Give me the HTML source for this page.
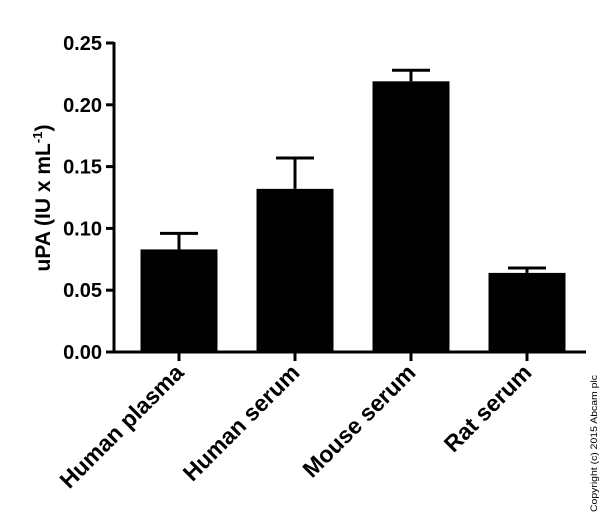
<!DOCTYPE html>
<html><head><meta charset="utf-8"><style>
body{margin:0;background:#fff}
svg{display:block;font-family:"Liberation Sans",Arial,sans-serif}
</style></head><body>
<svg id="chart" width="600" height="525">
<g id="axes"></g><g id="bars"></g>
<text transform="translate(50,198) rotate(-90)" text-anchor="middle" font-size="21" font-weight="bold">uPA (IU x mL<tspan dy="-8" font-size="13">-1</tspan><tspan dy="8">)</tspan></text>
<text transform="translate(597,512) rotate(-90)" font-size="9" textLength="137" lengthAdjust="spacingAndGlyphs" fill="#000">Copyright (c) 2015 Abcam plc</text>
</svg>
<script>
const categories=["Human plasma","Human serum","Mouse serum","Rat serum"];
const values=[0.083,0.132,0.219,0.064];
const errors=[0.013,0.025,0.009,0.004];
const yTicks=[0,0.05,0.10,0.15,0.20,0.25];
const tickLabels=["0.00","0.05","0.10","0.15","0.20","0.25"];
const NS="http://www.w3.org/2000/svg";
const x0=114,x1=586,yBase=352,yTop=43,yMax=0.25;
const y=v=>yBase-(v/yMax)*(yBase-yTop);
const band=116;
const xc=i=>179+band*i;
const bw=77;
function mk(t,a,p){const e=document.createElementNS(NS,t);for(const k in a)e.setAttribute(k,a[k]);p.appendChild(e);return e;}
const ax=document.getElementById('axes'),bg=document.getElementById('bars');
let l=mk('line',{x1:x0,y1:yTop-1,x2:x0,y2:yBase+1.5,stroke:'#000','stroke-width':3},ax);


l=mk('line',{x1:x0-1.5,y1:yBase,x2:x1,y2:yBase,stroke:'#000','stroke-width':3},ax);


yTicks.forEach((v,i)=>{
 const t=mk('line',{x1:x0-8,y1:y(v),x2:x0,y2:y(v),stroke:'#000','stroke-width':3},ax);
 
 
 const tx=mk('text',{x:x0-12,y:y(v)+7,'text-anchor':'end','font-size':20,'font-weight':'bold'},ax);
 tx.textContent=tickLabels[i];
 
 
});
categories.forEach((c,i)=>{
 const cx=xc(i);
 const r=mk('rect',{x:cx-bw/2,y:y(values[i]),width:bw,height:yBase-y(values[i]),fill:'#000'},bg);
 
 
 const et=y(values[i]+errors[i]);
 const e1=mk('line',{x1:cx,y1:y(values[i]),x2:cx,y2:et,stroke:'#000','stroke-width':3},bg);
 
 
 const e2=mk('line',{x1:cx-19,y1:et,x2:cx+19,y2:et,stroke:'#000','stroke-width':3},bg);
 
 
 const tk=mk('line',{x1:cx,y1:yBase,x2:cx,y2:yBase+9,stroke:'#000','stroke-width':3},ax);
 
 
 const tx=mk('text',{transform:`translate(${cx+6},${yBase+22}) rotate(-45)`,'text-anchor':'end','font-size':23,'font-weight':'bold'},ax);
 tx.textContent=c;
 
 
});
</script>
</body></html>
